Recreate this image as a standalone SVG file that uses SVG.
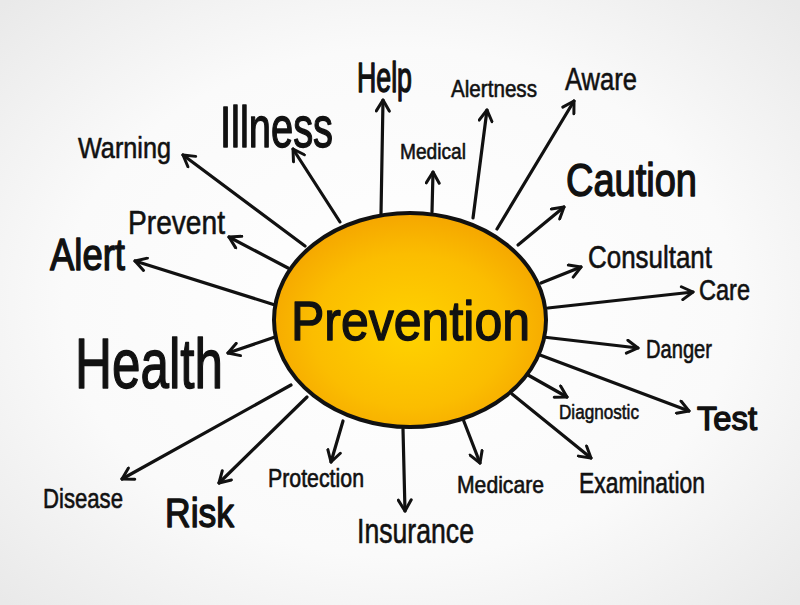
<svg xmlns="http://www.w3.org/2000/svg" width="800" height="605" viewBox="0 0 800 605">
  <defs>
    <radialGradient id="bg" cx="50%" cy="50%" r="70%">
      <stop offset="0%" stop-color="#ffffff"/>
      <stop offset="60%" stop-color="#fafafa"/>
      <stop offset="100%" stop-color="#e9e9e9"/>
    </radialGradient>
    <radialGradient id="fill" cx="50%" cy="55%" r="55%">
      <stop offset="0%" stop-color="#ffd300"/>
      <stop offset="65%" stop-color="#fbbd00"/>
      <stop offset="100%" stop-color="#f5a600"/>
    </radialGradient>
    <marker id="arr" viewBox="0 0 16 16" refX="14" refY="8" markerWidth="16" markerHeight="16" markerUnits="userSpaceOnUse" orient="auto">
      <path d="M3,1.5 L14,8 L3,14.5" fill="none" stroke="#111" stroke-width="3" stroke-linecap="round" stroke-linejoin="round"/>
    </marker>
    <style>
      .c line { stroke: #111; stroke-width: 3.2; stroke-linecap: round; marker-end: url(#arr); }
      text { font-family: "Liberation Sans", Arial, sans-serif; fill: #111; stroke: #111; stroke-width: 0.6; stroke-linejoin: round; }
      text.b { stroke-width: 1.4; }
    </style>
  </defs>
  <rect width="800" height="605" fill="url(#bg)"/>

  <g id="connectors" class="c">
    <line x1="381" y1="214" x2="383" y2="100"/>
    <line x1="432" y1="212" x2="433" y2="172"/>
    <line x1="473" y1="218" x2="487" y2="110"/>
    <line x1="497" y1="229" x2="574" y2="101"/>
    <line x1="518" y1="245" x2="564" y2="207"/>
    <line x1="541" y1="283" x2="581" y2="267"/>
    <line x1="548" y1="308" x2="693" y2="292"/>
    <line x1="543" y1="337" x2="638" y2="348"/>
    <line x1="540" y1="355" x2="689" y2="411"/>
    <line x1="528" y1="375" x2="567" y2="397"/>
    <line x1="512" y1="394" x2="591" y2="458"/>
    <line x1="463" y1="419" x2="480" y2="463"/>
    <line x1="403" y1="429" x2="405" y2="511"/>
    <line x1="343" y1="421" x2="331" y2="462"/>
    <line x1="307" y1="397" x2="219" y2="483"/>
    <line x1="291" y1="385" x2="122" y2="479"/>
    <line x1="275" y1="337" x2="228" y2="353"/>
    <line x1="275" y1="305" x2="135" y2="261"/>
    <line x1="288" y1="268" x2="229" y2="237"/>
    <line x1="305" y1="246" x2="183" y2="155"/>
    <line x1="340" y1="222" x2="293" y2="149"/>
  </g>

  <g id="center">
    <ellipse cx="410" cy="320" rx="136" ry="107" fill="url(#fill)" stroke="#111" stroke-width="4"/>
    <text class="b" x="291" y="340" font-size="56" textLength="239" lengthAdjust="spacingAndGlyphs">Prevention</text>
  </g>

  <g id="help"><text class="b" x="357" y="92" font-size="42" textLength="55" lengthAdjust="spacingAndGlyphs">Help</text></g>
  <g id="medical"><text x="400" y="159" font-size="22" textLength="66" lengthAdjust="spacingAndGlyphs">Medical</text></g>
  <g id="alertness"><text x="451" y="97" font-size="24" textLength="86" lengthAdjust="spacingAndGlyphs">Alertness</text></g>
  <g id="aware"><text x="565" y="90" font-size="32" textLength="72" lengthAdjust="spacingAndGlyphs">Aware</text></g>
  <g id="caution"><text class="b" x="566" y="196" font-size="46" textLength="131" lengthAdjust="spacingAndGlyphs">Caution</text></g>
  <g id="consultant"><text x="588" y="268" font-size="31" textLength="124" lengthAdjust="spacingAndGlyphs">Consultant</text></g>
  <g id="care"><text x="699" y="300" font-size="29" textLength="51" lengthAdjust="spacingAndGlyphs">Care</text></g>
  <g id="danger"><text x="646" y="358" font-size="25" textLength="66" lengthAdjust="spacingAndGlyphs">Danger</text></g>
  <g id="test"><text class="b" x="697" y="430" font-size="33" textLength="60" lengthAdjust="spacingAndGlyphs">Test</text></g>
  <g id="diagnostic"><text x="559" y="419" font-size="21" textLength="80" lengthAdjust="spacingAndGlyphs">Diagnostic</text></g>
  <g id="examination"><text x="579" y="493" font-size="29" textLength="126" lengthAdjust="spacingAndGlyphs">Examination</text></g>
  <g id="medicare"><text x="457" y="493" font-size="24" textLength="87" lengthAdjust="spacingAndGlyphs">Medicare</text></g>
  <g id="insurance"><text x="357" y="543" font-size="35" textLength="117" lengthAdjust="spacingAndGlyphs">Insurance</text></g>
  <g id="protection"><text x="268" y="487" font-size="25" textLength="96" lengthAdjust="spacingAndGlyphs">Protection</text></g>
  <g id="risk"><text class="b" x="165" y="527" font-size="41" textLength="69" lengthAdjust="spacingAndGlyphs">Risk</text></g>
  <g id="disease"><text x="43" y="508" font-size="28" textLength="80" lengthAdjust="spacingAndGlyphs">Disease</text></g>
  <g id="health"><text class="b" x="75" y="388" font-size="70" textLength="148" lengthAdjust="spacingAndGlyphs">Health</text></g>
  <g id="alert"><text class="b" x="50" y="270" font-size="44" textLength="75" lengthAdjust="spacingAndGlyphs">Alert</text></g>
  <g id="prevent"><text x="128" y="234" font-size="34" textLength="97" lengthAdjust="spacingAndGlyphs">Prevent</text></g>
  <g id="warning"><text x="78" y="158" font-size="30" textLength="93" lengthAdjust="spacingAndGlyphs">Warning</text></g>
  <g id="illness"><text class="b" x="220" y="147" font-size="58" textLength="113" lengthAdjust="spacingAndGlyphs">Illness</text></g>
</svg>
